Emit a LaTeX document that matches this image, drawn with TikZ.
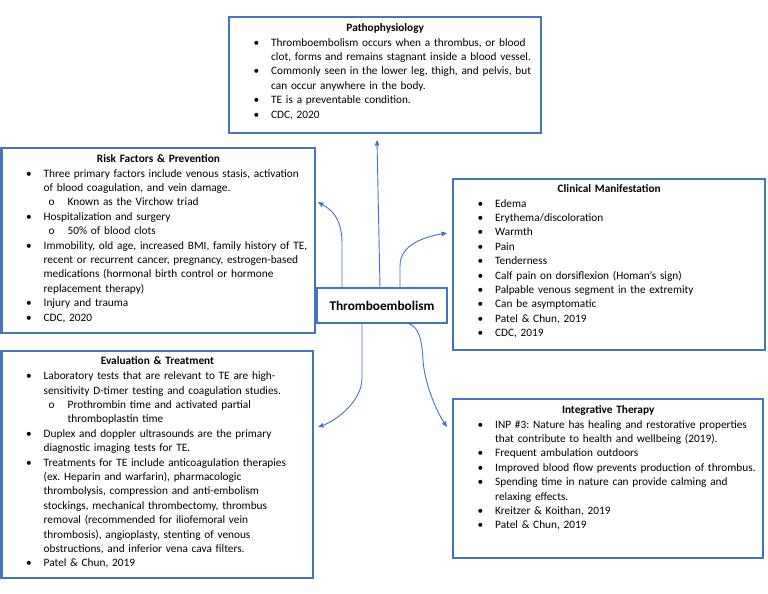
\documentclass[tikz,border=0pt]{standalone}
\usepackage{fontspec}
\setmainfont{Carlito}
\usetikzlibrary{calc,arrows.meta}
\definecolor{boxblue}{HTML}{4472C4}
\frenchspacing
\newcommand{\bul}{\par\hangindent=42pt\hangafter=0\noindent\llap{\textbullet\hspace{12pt}}}
\newcommand{\subul}{\par\hangindent=66pt\hangafter=0\noindent\llap{o\hspace{13pt}}}
\newcommand{\btitle}[2]{\noindent\makebox[#1][c]{\bfseries\rule{0pt}{14pt}#2}\par\vspace{0.6pt}}
\begin{document}
\begin{tikzpicture}[x=1pt,y=1pt,
  box/.style={draw=boxblue,line width=2.5pt,fill=white,inner sep=0pt,outer sep=0pt},
  content/.style={inner sep=0pt,anchor=north west,text width=#1,align=left,
    font=\fontsize{11.3}{14.4}\selectfont},
  conn/.style={draw=boxblue,line width=0.9pt,-{Triangle[length=5.5pt,width=4.5pt]}}]
\useasboundingbox (0,0) rectangle (768,594);
\fill[white] (0,0) rectangle (768,594);

\node[box,minimum width=312pt,minimum height=116pt] (patho) at (385,519) {};
\node[box,minimum width=313.5pt,minimum height=185pt] (risk) at (158.25,353.5) {};
\node[box,minimum width=312pt,minimum height=171pt] (clin) at (609,329.5) {};
\node[box,minimum width=311.5pt,minimum height=227pt] (eval) at (157.25,129.5) {};
\node[box,minimum width=310pt,minimum height=159pt] (integ) at (608,115.5) {};
\node[box,minimum width=130pt,minimum height=35pt,
  font=\bfseries\fontsize{13.3}{16}\selectfont] (te) at (382,288.5) {Thromboembolism};

\node[content=352pt] (pathotxt) at (patho.north west) {%
\btitle{312pt}{Pathophysiology}
\bul Thromboembolism occurs when a thrombus, or blood\newline clot, forms and remains stagnant inside a blood vessel.
\bul Commonly seen in the lower leg, thigh, and pelvis, but\newline can occur anywhere in the body.
\bul TE is a preventable condition.
\bul CDC, 2020\par};

\node[content=353pt] (risktxt) at (risk.north west) {%
\btitle{313.5pt}{Risk Factors \& Prevention}
\bul Three primary factors include venous stasis, activation\newline of blood coagulation, and vein damage.
\subul Known as the Virchow triad
\bul Hospitalization and surgery
\subul 50\% of blood clots
\bul Immobility, old age, increased BMI, family history of TE,\newline recent or recurrent cancer, pregnancy, estrogen-based\newline medications (hormonal birth control or hormone\newline replacement therapy)
\bul Injury and trauma
\bul CDC, 2020\par};

\node[content=352pt] (clintxt) at ($(clin.north west)+(0,1)$) {%
\btitle{312pt}{Clinical Manifestation}
\bul Edema
\bul Erythema/discoloration
\bul Warmth
\bul Pain
\bul Tenderness
\bul Calf pain on dorsiflexion (Homan’s sign)
\bul Palpable venous segment in the extremity
\bul Can be asymptomatic
\bul Patel \& Chun, 2019
\bul CDC, 2019\par};

\node[content=352pt] (evaltxt) at ($(eval.north west)+(0,0.5)$) {%
\btitle{311.5pt}{Evaluation \& Treatment}
\bul Laboratory tests that are relevant to TE are high-\newline sensitivity D-timer testing and coagulation studies.
\subul Prothrombin time and activated partial\newline thromboplastin time
\bul Duplex and doppler ultrasounds are the primary\newline diagnostic imaging tests for TE.
\bul Treatments for TE include anticoagulation therapies\newline (ex. Heparin and warfarin), pharmacologic\newline thrombolysis, compression and anti-embolism\newline stockings, mechanical thrombectomy, thrombus\newline removal (recommended for iliofemoral vein\newline thrombosis), angioplasty, stenting of venous\newline obstructions, and inferior vena cava filters.
\bul Patel \& Chun, 2019\par};

\node[content=350pt] (integtxt) at (integ.north west) {%
\btitle{310pt}{Integrative Therapy}
\bul INP \#3: Nature has healing and restorative properties\newline that contribute to health and wellbeing (2019).
\bul Frequent ambulation outdoors
\bul Improved blood flow prevents production of thrombus.
\bul Spending time in nature can provide calming and\newline relaxing effects.
\bul Kreitzer \& Koithan, 2019
\bul Patel \& Chun, 2019\par};

% connectors
\draw[conn] ($(te.north)+(-2,0)$) -- ($(patho.south)+(-8,-7)$);
\draw[conn] ($(te.north west)+(25,0)$) -- ++(0,45) .. controls +(0,28) and +(10,-6) .. ($(risk.east)+(3,38.5)$);
\draw[conn] ($(te.north west)+(83,0)$) -- ++(0,22) .. controls +(0,22) and +(-22,-4) .. ($(clin.west)+(-6,31.5)$);
\draw[conn] ($(te.south west)+(45,0)$) -- ++(0,-55) .. controls +(0,-25) and +(15,5) .. ($(eval.east)+(5,37.5)$);
\coordinate (brs) at ($(te.south east)+(-40,0)$);
\coordinate (brm) at ($(brs)+(16,-37)$);
\draw[conn] (brs) .. controls +(12,-3) and +(-1,20) .. (brm) .. controls +(1,-20) and +(-12,18) .. ($(integ.west)+(-6,51.5)$);
\end{tikzpicture}
\end{document}
